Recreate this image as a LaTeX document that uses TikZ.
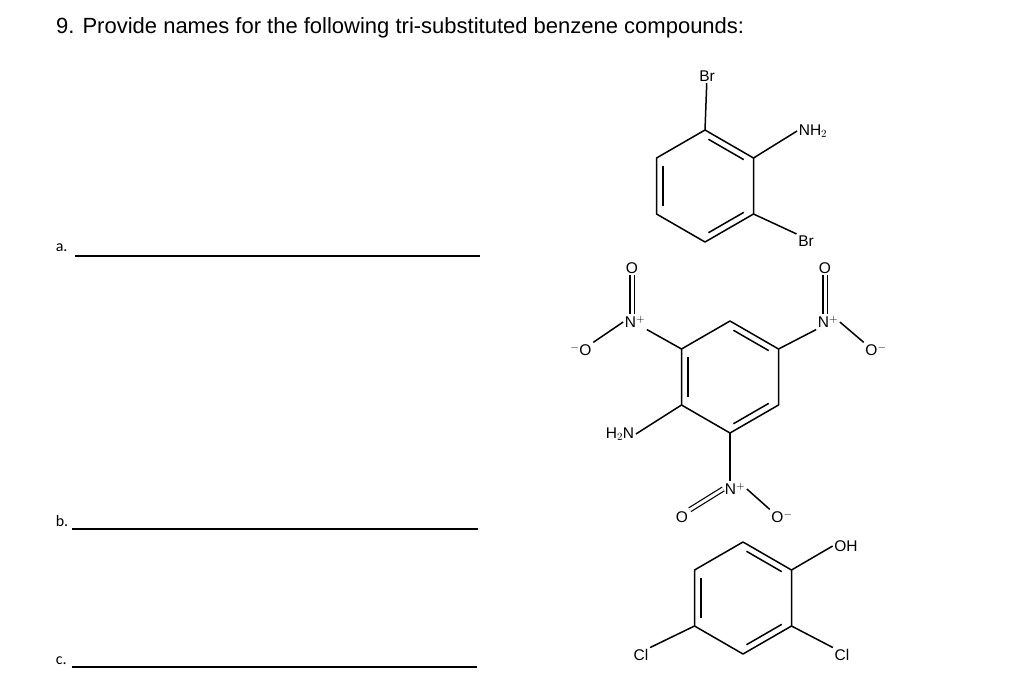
\documentclass[tikz,border=0pt]{standalone}
\usepackage{fontspec}
\setmainfont{Liberation Sans}
\newfontfamily\carlitofont{Carlito}
\usetikzlibrary{calc}
\begin{document}
\begin{tikzpicture}[x=1pt,y=-1pt,line width=1.5pt,
  lab/.style={inner sep=1pt,font=\fontsize{15.5}{15.5}\selectfont},
  dbl/.style={double,double distance=3pt,line width=1.2pt}]
\useasboundingbox (0,0) rectangle (1024,686);
\node[anchor=west,font=\fontsize{22}{22}\selectfont] (title) at (52,28) {9. Provide names for the following tri-substituted benzene compounds:};
% answer lines
\node[anchor=west,font=\carlitofont\fontsize{16}{16}\selectfont,inner sep=0pt] (la) at (55,248) {a.};
\node[anchor=west,font=\carlitofont\fontsize{16}{16}\selectfont,inner sep=0pt] (lb) at (55,521) {b.};
\node[anchor=west,font=\carlitofont\fontsize{16}{16}\selectfont,inner sep=0pt] (lc) at (55,661) {c.};
\coordinate (sa) at (75,256); \coordinate (sb) at (72,529); \coordinate (sc) at (72,667);
\coordinate (ea) at (480,256); \coordinate (eb) at (478,529); \coordinate (ec) at (477,667);
\draw[line width=1.1pt] (sa) -- (ea);
\draw[line width=1.1pt] (sb) -- (eb);
\draw[line width=1.1pt] (sc) -- (ec);
% ring macro
\newcommand\myring[3]{%
  \coordinate (#1c) at (#2,#3);
  \coordinate (#1t) at (#2,#3-56);
  \coordinate (#1ur) at (#2+48.5,#3-28);
  \coordinate (#1lr) at (#2+48.5,#3+28);
  \coordinate (#1b) at (#2,#3+56);
  \coordinate (#1ll) at (#2-48.5,#3+28);
  \coordinate (#1ul) at (#2-48.5,#3-28);
  \draw[line join=round] (#1t)--(#1ur)--(#1lr)--(#1b)--(#1ll)--(#1ul)--cycle;
  \draw[shorten <=4pt,shorten >=4pt] ($(#1c)!0.87!(#1t)$) -- ($(#1c)!0.87!(#1ur)$);
  \draw[shorten <=4pt,shorten >=4pt] ($(#1c)!0.87!(#1ul)$) -- ($(#1c)!0.87!(#1ll)$);
  \draw[shorten <=4pt,shorten >=4pt] ($(#1c)!0.87!(#1lr)$) -- ($(#1c)!0.87!(#1b)$);}
% molecule a
\myring{A}{705}{186}
\node[lab] (Abr1) at (707,76) {Br};
\node[lab] (Anh) at (813,131) {NH$_2$};
\node[lab] (Abr2) at (806,241) {Br};
\draw (At) -- (Abr1);
\draw (Aur) -- (Anh.west);
\draw (Alr) -- (Abr2.north west);
% molecule b
\myring{B}{730}{377}
\node[lab] (N1) at (635,322) {N$^{+}$};
\node[lab] (O1) at (632,268) {O};
\node[lab] (O2) at (581,350) {$^{-}$O};
\node[lab] (N2) at (828,322) {N$^{+}$};
\node[lab] (O3) at (825,268) {O};
\node[lab] (O4) at (876,350) {O$^{-}$};
\node[lab] (N3) at (735,489) {N$^{+}$};
\node[lab] (O5) at (682,517) {O};
\node[lab] (O6) at (782,517) {O$^{-}$};
\node[lab] (NH) at (620,434) {H$_2$N};
\draw (Bul) -- (N1.south east);
\draw[dbl] (O1.south) -- (O1.south |- N1.north);
\draw (N1.west) -- (O2.north east);
\draw (Bur) -- (N2.south west);
\draw[dbl] (O3.south) -- (O3.south |- N2.north);
\draw (N2.east) -- (O4.north west);
\draw (Bb) -- (Bb |- N3.north);
\draw[dbl] (N3.west) -- (O5.north east);
\draw (N3.east) -- (O6.north west);
\draw (Bll) -- (NH.east);
% molecule c
\myring{C}{743}{598}
\node[lab] (OH) at (846,546) {OH};
\node[lab] (Cl1) at (842,655) {Cl};
\node[lab] (Cl2) at (641,655) {Cl};
\draw (Cur) -- (OH.west);
\draw (Clr) -- (Cl1.north west);
\draw (Cll) -- (Cl2.north east);
\end{tikzpicture}
\end{document}
